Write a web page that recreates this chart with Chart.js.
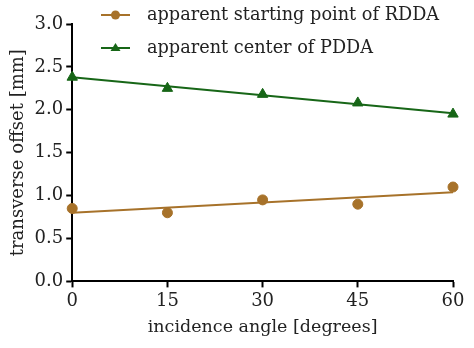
<!DOCTYPE html>
<html>
<head>
<meta charset="utf-8">
<script src="https://cdn.jsdelivr.net/npm/chart.js@4"></script>
<style>
  html, body { margin: 0; padding: 0; background: #fff; }
  #wrap { width: 474px; height: 348px; }
</style>
</head>
<body>
<div id="wrap"><canvas id="offsetChart" width="474" height="348"></canvas></div>
<script>
const angles = [0, 15, 30, 45, 60];
const rddaStart = [0.85, 0.80, 0.95, 0.90, 1.10];
const pddaCenter = [2.38, 2.25, 2.18, 2.08, 1.95];
// fitted line end points (at 0 and 60 degrees)
const fitAngles = [0, 60];
const rddaFit = [0.80, 1.04];
const pddaFit = [2.38, 1.96];
const yTicks = [0, 0.5, 1.0, 1.5, 2.0, 2.5, 3.0];

const brown = '#a7722a';
const green = '#176617';
const fontFam = "'DejaVu Serif', 'Liberation Serif', serif";

function pts(xs, ys) {
  return xs.map((x, i) => ({ x: x, y: ys[i] }));
}

// legend with line + marker symbols, drawn top left over the plot
const lineLegend = {
  id: 'lineLegend',
  afterDraw(chart) {
    const ctx = chart.ctx;
    const items = [
      { label: 'apparent starting point of RDDA', color: brown, style: 'circle' },
      { label: 'apparent center of PDDA', color: green, style: 'triangle' }
    ];
    ctx.save();
    items.forEach((it, i) => {
      const y = 15 + i * 33;
      ctx.strokeStyle = it.color;
      ctx.lineWidth = 2;
      ctx.beginPath();
      ctx.moveTo(101, y);
      ctx.lineTo(130, y);
      ctx.stroke();
      ctx.fillStyle = it.color;
      ctx.beginPath();
      if (it.style === 'circle') {
        ctx.arc(115.5, y, 4.5, 0, Math.PI * 2);
      } else {
        ctx.moveTo(115.5, y - 5);
        ctx.lineTo(120.5, y + 3);
        ctx.lineTo(110.5, y + 3);
        ctx.closePath();
      }
      ctx.fill();
      ctx.fillStyle = '#222';
      ctx.font = '17.7px ' + fontFam;
      ctx.textBaseline = 'middle';
      ctx.fillText(it.label, 147, y);
    });
    ctx.restore();
  }
};

new Chart(document.getElementById('offsetChart'), {
  type: 'scatter',
  data: {
    datasets: [
      {
        label: 'RDDA fit',
        data: pts(fitAngles, rddaFit),
        showLine: true,
        borderColor: brown,
        borderWidth: 2,
        pointRadius: 0
      },
      {
        label: 'PDDA fit',
        data: pts(fitAngles, pddaFit),
        showLine: true,
        borderColor: green,
        borderWidth: 2,
        pointRadius: 0
      },
      {
        label: 'apparent starting point of RDDA',
        data: pts(angles, rddaStart),
        backgroundColor: brown,
        borderColor: brown,
        pointStyle: 'circle',
        pointRadius: 5
      },
      {
        label: 'apparent center of PDDA',
        data: pts(angles, pddaCenter),
        backgroundColor: green,
        borderColor: green,
        pointStyle: 'triangle',
        pointRadius: 6
      }
    ]
  },
  options: {
    responsive: false,
    animation: false,
    clip: false,
    layout: { padding: { top: 24, right: 21, left: 4, bottom: 6 } },
    plugins: {
      legend: { display: false },
      tooltip: { enabled: false }
    },
    scales: {
      x: {
        type: 'linear',
        min: 0,
        max: 60,
        afterBuildTicks: axis => { axis.ticks = angles.map(v => ({ value: v })); },
        grid: { drawOnChartArea: false, drawTicks: true, tickLength: 6, color: '#000', tickWidth: 2 },
        border: { display: true, color: '#000', width: 2 },
        ticks: { color: '#222', font: { family: fontFam, size: 18 }, padding: 3, maxRotation: 0 },
        title: { display: true, text: 'incidence angle [degrees]', color: '#222', font: { family: fontFam, size: 17.5 }, padding: { top: 2 } }
      },
      y: {
        min: 0,
        max: 3,
        afterBuildTicks: axis => { axis.ticks = yTicks.map(v => ({ value: v })); },
        grid: { drawOnChartArea: false, drawTicks: true, tickLength: 6, color: '#000', tickWidth: 2 },
        border: { display: true, color: '#000', width: 2 },
        ticks: { color: '#222', font: { family: fontFam, size: 18 }, padding: 3, callback: v => v.toFixed(1) },
        title: { display: true, text: 'transverse offset [mm]', color: '#222', font: { family: fontFam, size: 18 }, padding: { bottom: 2 } }
      }
    }
  },
  plugins: [lineLegend]
});
</script>
</body>
</html>
